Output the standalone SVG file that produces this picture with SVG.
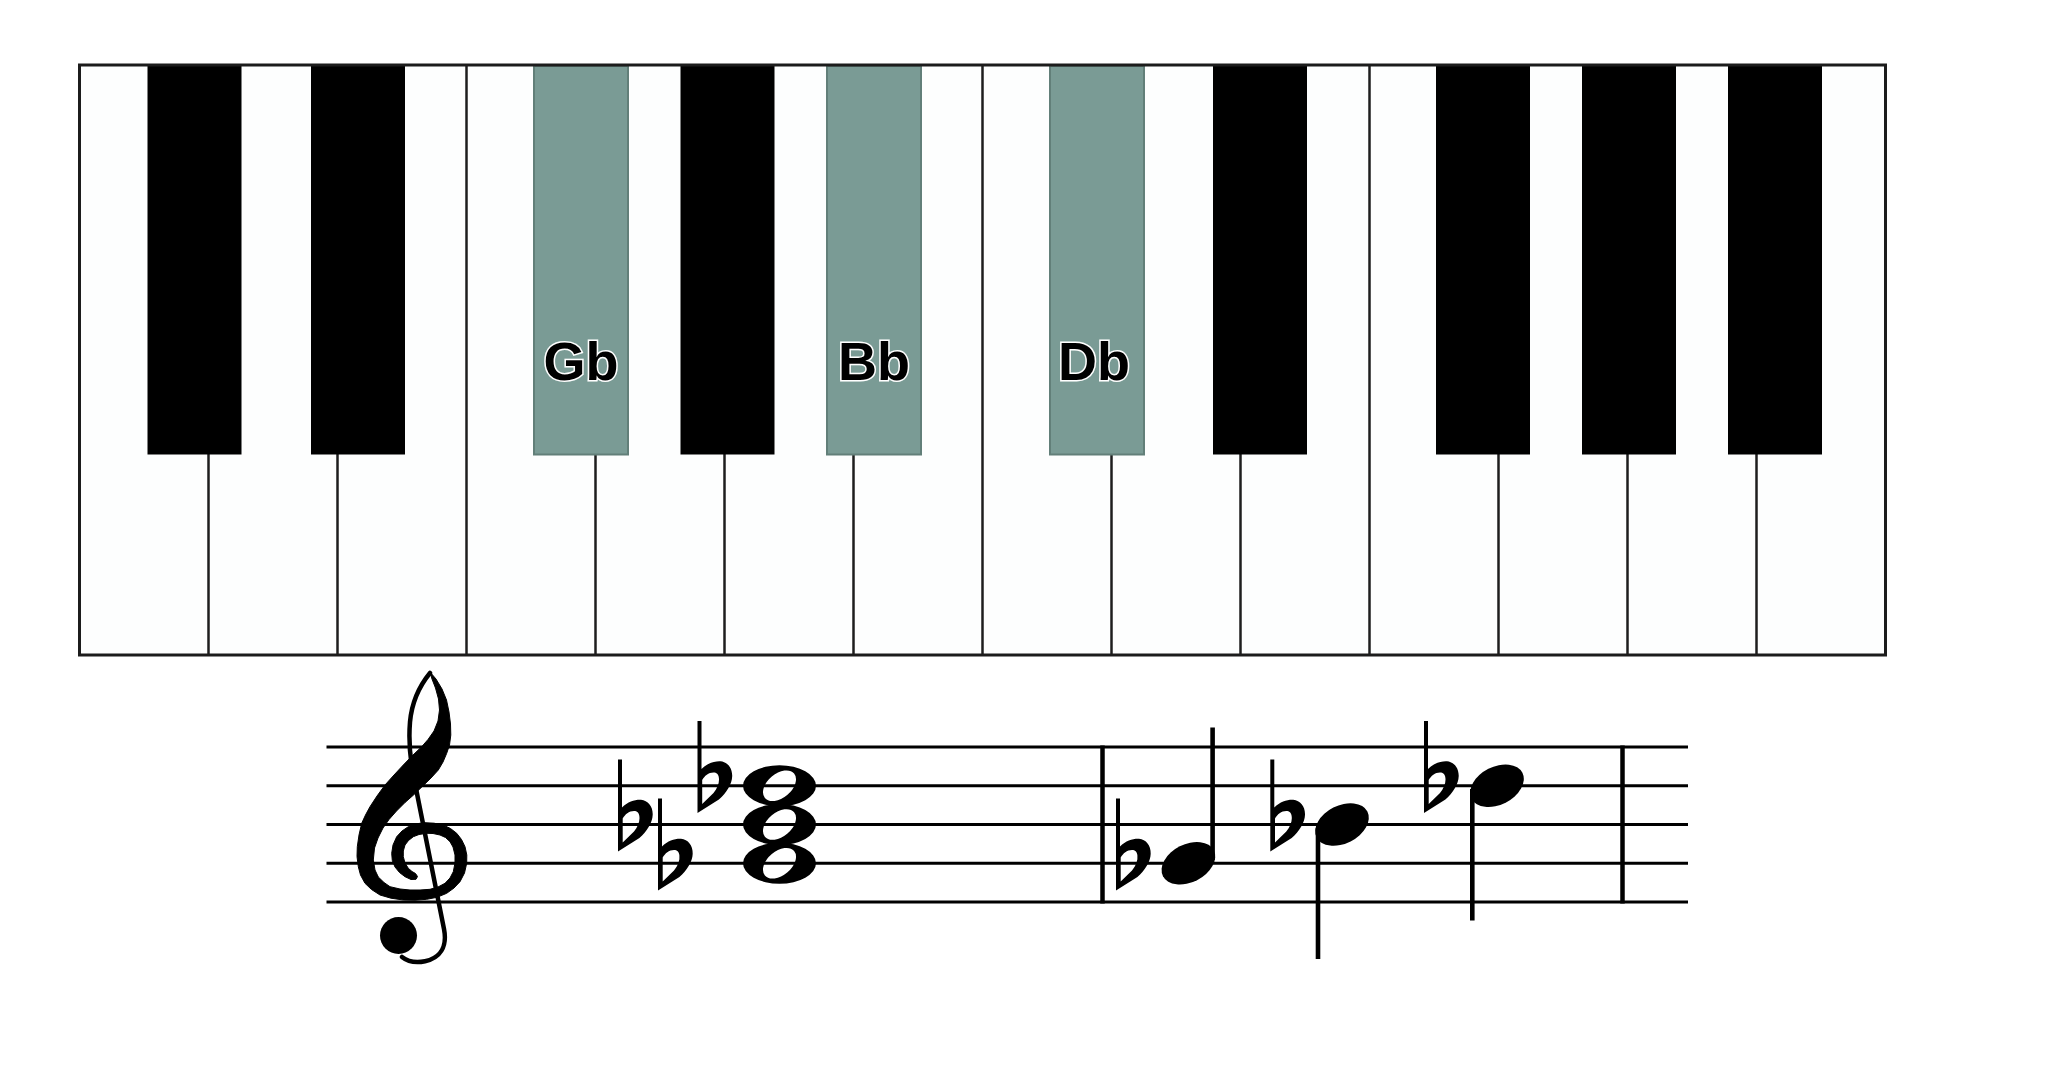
<svg xmlns="http://www.w3.org/2000/svg" width="2048" height="1071" viewBox="0 0 2048 1071">
<style>
.div{stroke:#1e1e1e;stroke-width:2.5}
.blk{fill:#000}
.hl{fill:#7a9b95;stroke:#627f79;stroke-width:2}
.lbl{font-family:"Liberation Sans",Arial,sans-serif;font-weight:bold;font-size:54px;fill:#000;stroke:#fff;stroke-width:3;paint-order:stroke;text-anchor:middle}
.staff{stroke:#000;stroke-width:3}
.bar{stroke:#000;stroke-width:4.5}
.stem{stroke:#000;stroke-width:4.6}
</style>
<defs>
<path id="flat" fill="#000" fill-rule="evenodd" d="M -2,-92 L 2,-92 L 2,-44 C 8,-50 15,-52 21,-51.7 C 28,-51 33,-45 32.7,-36.7 C 32.5,-29 27,-20 19.4,-13.4 L -2,0 Z M 2.7,-9 L 14,-20 C 18,-25 20,-30 19.4,-35 C 19,-39 17,-40.5 14,-40.5 C 9,-40.5 5,-37 2.7,-33 Z"/>
<path id="whole" fill="#000" fill-rule="evenodd" d="M -36.5,0 A 36.5,20.5 0 1 0 36.5,0 A 36.5,20.5 0 1 0 -36.5,0 Z M -14.6,12.2 A 19,12 -40 1 0 14.6,-12.2 A 19,12 -40 1 0 -14.6,12.2 Z"/>
<ellipse id="qhead" cx="0" cy="0" rx="28.5" ry="19" transform="rotate(-27)" fill="#000"/>
</defs>
<rect width="2048" height="1071" fill="#fff"/>
<g id="keyboard">
<rect x="79.5" y="65" width="1806" height="590" fill="#fdfefe"/>
<g id="white-key-dividers">
<line class="div" x1="208.5" y1="65" x2="208.5" y2="655"/>
<line class="div" x1="337.5" y1="65" x2="337.5" y2="655"/>
<line class="div" x1="466.5" y1="65" x2="466.5" y2="655"/>
<line class="div" x1="595.5" y1="65" x2="595.5" y2="655"/>
<line class="div" x1="724.5" y1="65" x2="724.5" y2="655"/>
<line class="div" x1="853.5" y1="65" x2="853.5" y2="655"/>
<line class="div" x1="982.5" y1="65" x2="982.5" y2="655"/>
<line class="div" x1="1111.5" y1="65" x2="1111.5" y2="655"/>
<line class="div" x1="1240.5" y1="65" x2="1240.5" y2="655"/>
<line class="div" x1="1369.5" y1="65" x2="1369.5" y2="655"/>
<line class="div" x1="1498.5" y1="65" x2="1498.5" y2="655"/>
<line class="div" x1="1627.5" y1="65" x2="1627.5" y2="655"/>
<line class="div" x1="1756.5" y1="65" x2="1756.5" y2="655"/>
</g>
<g id="black-keys">
<rect class="blk" x="147.5" y="65" width="94" height="389.5"/>
<rect class="blk" x="311" y="65" width="94" height="389.5"/>
<rect class="blk" x="680.5" y="65" width="94" height="389.5"/>
<rect class="blk" x="1213" y="65" width="94" height="389.5"/>
<rect class="blk" x="1436" y="65" width="94" height="389.5"/>
<rect class="blk" x="1582" y="65" width="94" height="389.5"/>
<rect class="blk" x="1728" y="65" width="94" height="389.5"/>
</g>
<g id="key-Gb">
<rect class="hl" x="534" y="66" width="94" height="388.5"/>
<text class="lbl" x="581" y="380">Gb</text>
</g>
<g id="key-Bb">
<rect class="hl" x="827" y="66" width="94" height="388.5"/>
<text class="lbl" x="874" y="380">Bb</text>
</g>
<g id="key-Db">
<rect class="hl" x="1050" y="66" width="94" height="388.5"/>
<text class="lbl" x="1094" y="380">Db</text>
</g>
<rect x="79.5" y="65" width="1806" height="590" fill="none" stroke="#1c1c1c" stroke-width="3"/>
</g>
<g id="staff">
<line class="staff" x1="326.5" y1="747" x2="1688" y2="747"/>
<line class="staff" x1="326.5" y1="785.75" x2="1688" y2="785.75"/>
<line class="staff" x1="326.5" y1="824.5" x2="1688" y2="824.5"/>
<line class="staff" x1="326.5" y1="863.25" x2="1688" y2="863.25"/>
<line class="staff" x1="326.5" y1="902" x2="1688" y2="902"/>
<line class="bar" x1="1102.5" y1="745.5" x2="1102.5" y2="903.5"/>
<line class="bar" x1="1622.5" y1="745.5" x2="1622.5" y2="903.5"/>
</g>
<g id="treble-clef">
<path fill="#000" stroke="#000" stroke-width="1" stroke-linejoin="round" d="M 430,672 L 436,679 L 442,689 L 446.5,700 L 449,712 L 450.5,724 L 450.8,735 L 449.5,745 L 446.7,753.3 L 443,762 L 438.3,770 L 431,778 L 423.3,785.5 L 413.5,795 L 405,802.5 L 396.5,811 L 389,819.5 L 383,828 L 378,838 L 374.5,848 L 373.3,860 L 375,870 L 378.3,877 L 384,882.5 L 390,886.7 L 400,889 L 410,890 L 420,890 L 430,889.3 L 438,887 L 445,883.3 L 450,878 L 453.3,871.7 L 455,863 L 455,855 L 453,847 L 450,841.7 L 445.5,837.5 L 440,835 L 433,833.5 L 426.7,833.3 L 419,834.5 L 413.3,836.7 L 408.5,840.5 L 405,845 L 403.3,851 L 403.3,856.7 L 405,863 L 408.3,868.3 L 412,871.5 L 415.5,873.5 L 417.5,876.5 L 416,879.3 L 411,879.5 L 405,876.7 L 399.5,872.5 L 395,867 L 392.3,860.5 L 391.7,853.3 L 393,845 L 396.7,836.7 L 402,831 L 408.3,826.7 L 416,823.8 L 425,822.7 L 434,823.2 L 443.3,825 L 450.5,828.5 L 456.7,833.3 L 461.5,839.5 L 465,846.7 L 466.8,855 L 466.7,863.3 L 464.5,873 L 460,881.7 L 454,888 L 446.7,893.3 L 437,897.3 L 426.7,899.3 L 415,900.2 L 403.3,900 L 391,898.2 L 380,895 L 371.5,889.5 L 365,883.3 L 360.5,875 L 358.3,866.7 L 357,856.5 L 357.3,846.7 L 359,835 L 361.7,823.3 L 365.5,815 L 370,806.7 L 377,796 L 385,785 L 394,775 L 403.3,765 L 412,756 L 421.7,746.7 L 428,739.5 L 434,731 L 438,721 L 439.5,710 L 438.5,699 L 435.5,688 L 432,679 Z"/>
<path fill="none" stroke="#000" stroke-width="4.5" stroke-linecap="round" d="M 430,673 C 421,684 412,700 410,722 C 408.5,740 410,758 413.5,776 L 444,929 C 447.5,947 440,958 425,961.3 C 415,963.3 407,961 402,957"/>
<circle cx="398.5" cy="935.5" r="18.5" fill="#000"/>
</g>
<g id="chord">
<use href="#flat" x="620" y="851.5"/>
<use href="#flat" x="660" y="890.5"/>
<use href="#flat" x="699.5" y="813"/>
<use href="#whole" x="779.5" y="785.75"/>
<use href="#whole" x="779.5" y="824.5"/>
<use href="#whole" x="779.5" y="863.25"/>
</g>
<g id="note-Gb">
<use href="#flat" x="1118" y="890.5"/>
<use href="#qhead" x="1188.4" y="863.25"/>
<line class="stem" x1="1212.6" y1="860" x2="1212.6" y2="727.5"/>
</g>
<g id="note-Bb">
<use href="#flat" x="1272.3" y="851.5"/>
<use href="#qhead" x="1342" y="824.5"/>
<line class="stem" x1="1318" y1="828" x2="1318" y2="959"/>
</g>
<g id="note-Db">
<use href="#flat" x="1426" y="813"/>
<use href="#qhead" x="1497" y="785.75"/>
<line class="stem" x1="1472.3" y1="789" x2="1472.3" y2="920.5"/>
</g>
</svg>
